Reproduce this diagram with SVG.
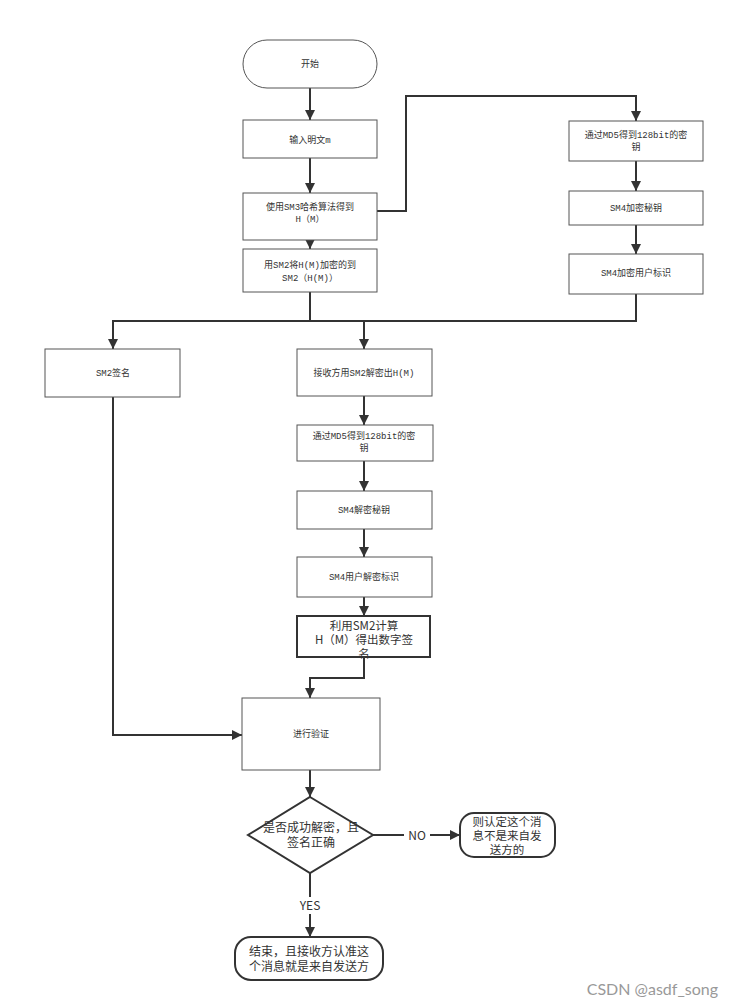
<svg xmlns="http://www.w3.org/2000/svg" width="734" height="1007" viewBox="0 0 734 1007">
<defs>
<marker id="ah" viewBox="0 0 10 10" refX="10" refY="5" markerWidth="10" markerHeight="10" markerUnits="userSpaceOnUse" orient="auto">
<path d="M0,0 L10,5 L0,10 z" fill="#333"/>
</marker>
<style>
.b{fill:#fff;stroke:#555;stroke-width:1}
.bb{fill:#fff;stroke:#333;stroke-width:2}
.c{fill:none;stroke:#333;stroke-width:2}
.s{font-family:"Liberation Mono","Noto Sans CJK SC",monospace;font-size:9px;fill:#333;text-anchor:middle}
.l{font-family:"Noto Sans CJK SC","Liberation Sans",sans-serif;font-size:12px;fill:#333;text-anchor:middle}
.m{font-family:"Noto Sans CJK SC","Liberation Sans",sans-serif;font-size:11.5px;fill:#333;text-anchor:middle}
</style>
</defs>
<rect width="734" height="1007" fill="#fff"/>
<g id="connectors">
<path class="c" d="M310,88 V120" marker-end="url(#ah)"/>
<path class="c" d="M310,158 V193" marker-end="url(#ah)"/>
<path class="c" d="M310,240 V249" marker-end="url(#ah)"/>
<path class="c" d="M377,211 H406 V96 H636 V121" marker-end="url(#ah)"/>
<path class="c" d="M636,161 V191" marker-end="url(#ah)"/>
<path class="c" d="M636,225 V254" marker-end="url(#ah)"/>
<path class="c" d="M636,294 V321 H113 V349" marker-end="url(#ah)"/>
<path class="c" d="M310,292 V321"/>
<path class="c" d="M364,321 V349" marker-end="url(#ah)"/>
<path class="c" d="M364,396 V425" marker-end="url(#ah)"/>
<path class="c" d="M364,461 V491" marker-end="url(#ah)"/>
<path class="c" d="M364,529 V557" marker-end="url(#ah)"/>
<path class="c" d="M364,597 V616" marker-end="url(#ah)"/>
<path class="c" d="M364,657 V678 H310 V698" marker-end="url(#ah)"/>
<path class="c" d="M113,397 V735 H242" marker-end="url(#ah)"/>
<path class="c" d="M310,770 V797" marker-end="url(#ah)"/>
<path class="c" d="M373,835 H404 M430,835 H460" marker-end="url(#ah)"/>
<text class="l" x="417" y="840">NO</text>
<path class="c" d="M310,873 V897 M310,914 V937" marker-end="url(#ah)"/>
<text class="l" x="310" y="910">YES</text>
</g>
<g id="start"><rect class="b" x="243" y="40" width="134" height="48" rx="24"/><text class="s" x="310" y="67">开始</text></g>
<g id="input"><rect class="b" x="243" y="120" width="134" height="38"/><text class="s" x="310" y="143">输入明文m</text></g>
<g id="sm3"><rect class="b" x="243" y="193" width="134" height="47"/><text class="s" x="310" y="210">使用SM3哈希算法得到</text><text class="s" x="310" y="222">H（M）</text></g>
<g id="sm2enc"><rect class="b" x="243" y="249" width="134" height="43"/><text class="s" x="310" y="268">用SM2将H(M)加密的到</text><text class="s" x="310" y="281">SM2（H(M)）</text></g>
<g id="md5a"><rect class="b" x="569" y="121" width="134" height="40"/><text class="s" x="636" y="138">通过MD5得到128bit的密</text><text class="s" x="636" y="150">钥</text></g>
<g id="sm4a"><rect class="b" x="569" y="191" width="134" height="34"/><text class="s" x="636" y="211">SM4加密秘钥</text></g>
<g id="sm4b"><rect class="b" x="569" y="254" width="134" height="40"/><text class="s" x="636" y="276">SM4加密用户标识</text></g>
<g id="sm2sign"><rect class="b" x="45" y="349" width="135" height="48"/><text class="s" x="113" y="376">SM2签名</text></g>
<g id="recv"><rect class="b" x="297" y="349" width="135" height="47"/><text class="s" x="364" y="376">接收方用SM2解密出H(M)</text></g>
<g id="md5b"><rect class="b" x="297" y="425" width="136" height="36"/><text class="s" x="364" y="439">通过MD5得到128bit的密</text><text class="s" x="364" y="451">钥</text></g>
<g id="sm4c"><rect class="b" x="297" y="491" width="135" height="38"/><text class="s" x="364" y="513">SM4解密秘钥</text></g>
<g id="sm4d"><rect class="b" x="297" y="557" width="135" height="40"/><text class="s" x="364" y="580">SM4用户解密标识</text></g>
<g id="calc"><rect class="bb" x="297" y="616" width="133" height="41"/><text class="m" x="364" y="630">利用SM2计算</text><text class="m" x="364" y="644">H（M）得出数字签</text><text class="m" x="364" y="658">名</text></g>
<g id="verify"><rect class="b" x="242" y="698" width="138" height="72"/><text class="s" x="311" y="737">进行验证</text></g>
<g id="decision"><path class="bb" d="M310,797 L373,835 L310,873 L248,835 Z"/><text class="l" x="311" y="832">是否成功解密，且</text><text class="l" x="311" y="847">签名正确</text></g>
<g id="reject"><rect class="bb" x="460" y="813" width="95" height="44" rx="14"/><text class="m" x="507" y="826">则认定这个消</text><text class="m" x="507" y="840">息不是来自发</text><text class="m" x="507" y="854">送方的</text></g>
<g id="end"><rect class="bb" x="235" y="937" width="148" height="43" rx="16"/><text class="l" x="309" y="956">结束，且接收方认准这</text><text class="l" x="309" y="971">个消息就是来自发送方</text></g>
<text x="718" y="995" font-family="Lato,'Liberation Sans',sans-serif" font-size="16" fill="#999" text-anchor="end">CSDN @asdf_song</text>
</svg>
